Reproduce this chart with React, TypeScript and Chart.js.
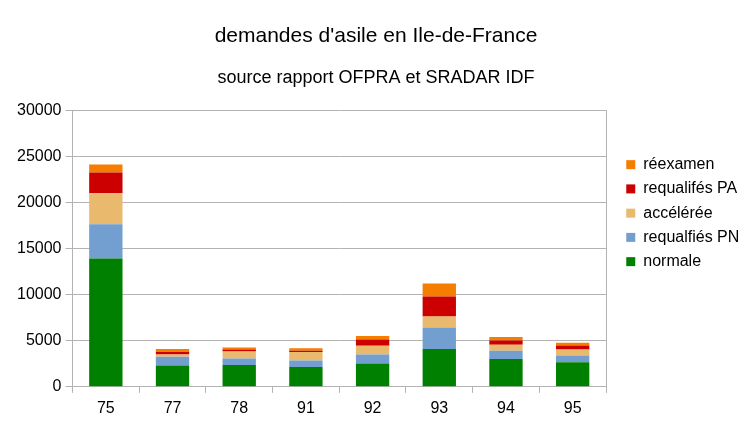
import { useEffect, useRef } from 'react'
import { Chart, registerables } from 'chart.js'

Chart.register(...registerables)

const departements = ['75', '77', '78', '91', '92', '93', '94', '95']
const normale = [13950, 2320, 2360, 2140, 2540, 4100, 3010, 2680]
const requalifiesPN = [3730, 940, 720, 720, 970, 2350, 900, 720]
const acceleree = [3370, 250, 760, 910, 950, 1190, 660, 660]
const requalifiesPA = [2250, 260, 220, 140, 680, 2180, 460, 430]
const reexamen = [870, 350, 220, 290, 370, 1410, 370, 290]

const FONT = 'Liberation Sans'
const GRID = '#b3b3b3'

export default function App() {
  const canvasRef = useRef<HTMLCanvasElement>(null)

  useEffect(() => {
    if (!canvasRef.current) return
    const chart = new Chart(canvasRef.current, {
      type: 'bar',
      data: {
        labels: departements,
        datasets: [
          { label: 'normale', data: normale, backgroundColor: '#008000' },
          { label: 'requalfiés PN', data: requalifiesPN, backgroundColor: '#729fcf' },
          { label: 'accélérée', data: acceleree, backgroundColor: '#e9b96e' },
          { label: 'requalifés PA', data: requalifiesPA, backgroundColor: '#cc0000' },
          { label: 'réexamen', data: reexamen, backgroundColor: '#f57d00' },
        ].map(d => ({ ...d, categoryPercentage: 1, barPercentage: 0.5, borderWidth: 0 })),
      },
      options: {
        responsive: true,
        maintainAspectRatio: false,
        animation: false,
        layout: { padding: { left: 13, right: 17, bottom: 1 } },
        scales: {
          x: {
            stacked: true,
            grid: { offset: true, drawOnChartArea: false, color: GRID, tickLength: 6 },
            border: { color: GRID },
            ticks: { color: '#000', font: { family: FONT, size: 16 }, padding: 6 },
          },
          y: {
            stacked: true,
            min: 0,
            max: 30000,
            grid: { color: GRID, tickLength: 7 },
            border: { color: GRID },
            ticks: {
              stepSize: 5000,
              color: '#000',
              font: { family: FONT, size: 16 },
              padding: 4,
              callback: v => String(v),
            },
          },
          y2: {
            position: 'right',
            display: true,
            grid: { display: false },
            border: { color: GRID },
            ticks: { display: false },
            afterFit: scale => { scale.width = 12 },
          },
        },
        plugins: {
          title: {
            display: true,
            text: "demandes d'asile en Ile-de-France",
            color: '#000',
            font: { family: FONT, size: 21, weight: 'normal' },
            padding: { top: 24, bottom: 18 },
          },
          subtitle: {
            display: true,
            text: 'source rapport OFPRA et SRADAR IDF',
            color: '#000',
            font: { family: FONT, size: 18, weight: 'normal' },
            padding: { top: 0, bottom: 22 },
          },
          legend: {
            position: 'right',
            align: 'start',
            reverse: true,
            title: { display: true, text: '', padding: { top: 134, bottom: 0 } },
            labels: {
              color: '#000',
              font: { family: FONT, size: 16 },
              boxWidth: 9,
              boxHeight: 9,
              padding: 8.25,
            },
          },
          tooltip: { enabled: false },
        },
      },
    })
    return () => chart.destroy()
  }, [])

  return (
    <div style={{ position: 'absolute', left: 0, top: 0, width: 756, height: 425, background: '#fff' }}>
      <canvas ref={canvasRef} />
    </div>
  )
}
